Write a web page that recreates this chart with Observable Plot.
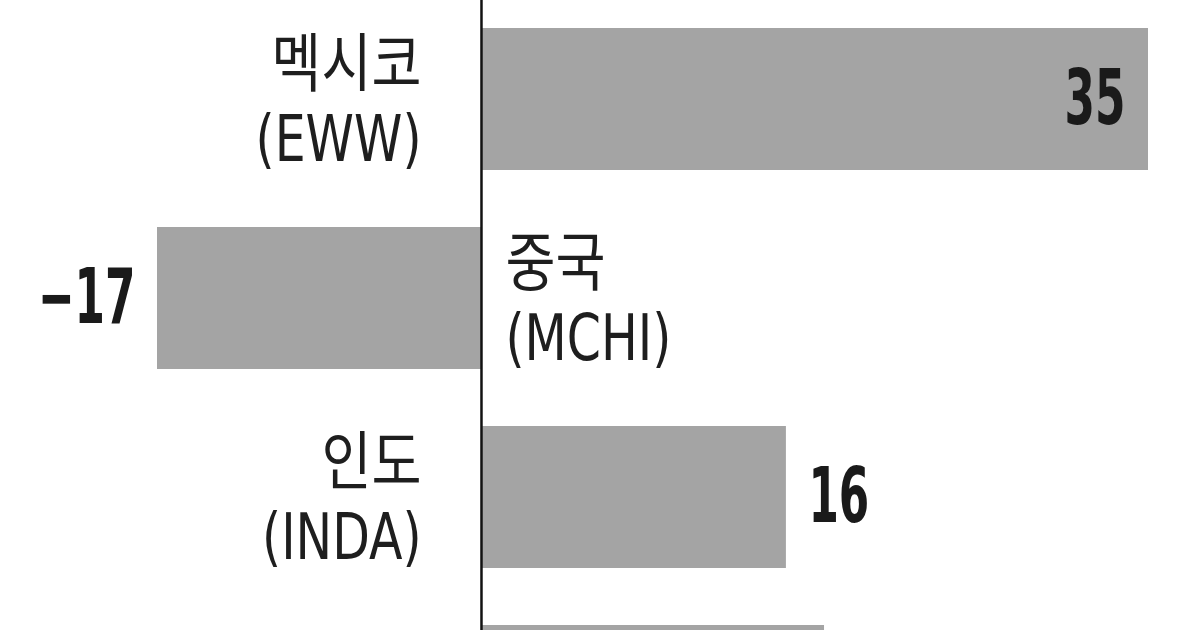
<!DOCTYPE html>
<html><head><meta charset="utf-8">
<script src="https://cdn.jsdelivr.net/npm/d3@7"></script>
<script src="https://cdn.jsdelivr.net/npm/@observablehq/plot@0.6"></script>
<style>
html,body{margin:0;padding:0;background:#fff;overflow:hidden;width:1200px;height:630px}
#chart svg{display:block}
</style>
</head><body><div id="chart"></div>
<script>
// Data (last row is cut off by the frame; its name is not visible)
const countries = ["멕시코", "중국", "인도", ""];
const tickers = ["(EWW)", "(MCHI)", "(INDA)", ""];
const returns = [35, -17, 16, 18];

const rows = countries.map((c, i) => ({
  key: String(i),
  name: c,
  value: returns[i],
  label: c ? c + "\n" + tickers[i] : ""
}));
const maxV = d3.max(returns);
const shown = rows.filter(d => d.name);
const fmt = v => (v < 0 ? "\u2212" : "") + Math.abs(v);
const family = '"Liberation Sans Narrow", "DejaVu Sans Condensed", "Noto Sans CJK KR", sans-serif';
const labelStyle = {lineHeight: 1.17, fontSize: 64, fontFamily: family, fill: "#1e1e1e"};
const valueStyle = {fontSize: 76, fontWeight: "bold", fontFamily: family, fill: "#1a1a1a"};

const chart = Plot.plot({
  width: 1200,
  height: 795,
  marginTop: 0, marginBottom: 0, marginLeft: 0, marginRight: 0,
  x: {domain: d3.extent(returns), range: [157, 1148], axis: null},
  y: {domain: rows.map(d => d.key), range: [0, 795], paddingInner: 0.286, paddingOuter: 0.14, axis: null},
  style: {background: "#fff"},
  marks: [
    Plot.barX(rows, {x: "value", y: "key", fill: "#a4a4a4"}),
    Plot.ruleX([0], {stroke: "#111", strokeWidth: 2.5}),
    // category labels
    Plot.text(shown.filter(d => d.value >= 0), {
      x: 0, y: "key", text: "label", textAnchor: "end", dx: -60, className: "cat", ...labelStyle
    }),
    Plot.text(shown.filter(d => d.value < 0), {
      x: 0, y: "key", text: "label", textAnchor: "start", dx: 24, className: "cat", ...labelStyle
    }),
    // value labels
    Plot.text(shown.filter(d => d.value === maxV), {
      x: "value", y: "key", text: d => fmt(d.value), textAnchor: "end", dx: -23, className: "val", ...valueStyle
    }),
    Plot.text(shown.filter(d => d.value >= 0 && d.value !== maxV), {
      x: "value", y: "key", text: d => fmt(d.value), textAnchor: "start", dx: 22, className: "val", ...valueStyle
    }),
    Plot.text(shown.filter(d => d.value < 0), {
      x: "value", y: "key", text: d => fmt(d.value), textAnchor: "end", dx: -22, className: "val", ...valueStyle
    })
  ]
});
// condensed lettering like the newspaper typeface
d3.select(chart).selectAll(".cat text").attr("transform", function() {
  return (this.getAttribute("transform") || "") + " scale(0.85,1)";
});
d3.select(chart).selectAll(".val text").attr("transform", function() {
  return (this.getAttribute("transform") || "") + " scale(0.64,1)";
});
document.getElementById("chart").appendChild(chart);
</script>
</body></html>
